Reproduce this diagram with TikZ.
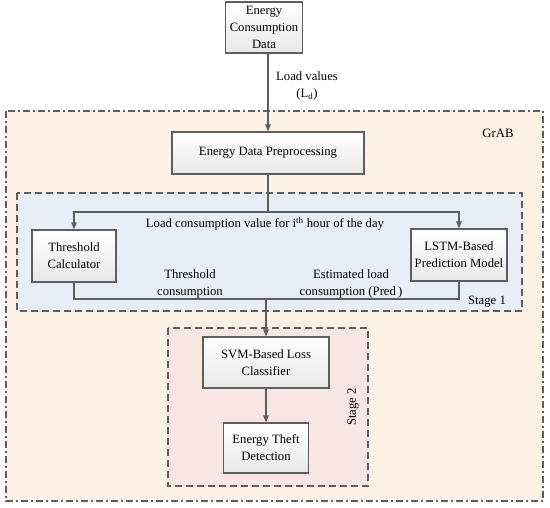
\documentclass[tikz,border=0pt]{standalone}
\usepackage{fontspec}
\setmainfont{Liberation Serif}
\usetikzlibrary{arrows.meta}
\definecolor{edgegray}{HTML}{5E5E5E}
\definecolor{outerfill}{HTML}{FDF0E4}
\definecolor{stageonefill}{HTML}{E8EEF7}
\definecolor{stagetwofill}{HTML}{F8E6E3}
\tikzset{
  box/.style={draw=edgegray, line width=1.2pt, top color=white, bottom color=black!9,
    align=center, inner sep=2pt, font=\fontsize{12.7}{17}\selectfont},
  outerbox/.style={draw=edgegray, line width=1.4pt, fill=outerfill,
    dash pattern=on 7pt off 3pt on 2pt off 3pt},
  stagebox/.style={draw=edgegray, line width=1.6pt, dash pattern=on 7pt off 4pt},
  conn/.style={draw=edgegray, line width=1.4pt},
  arr/.style={conn, -{Triangle[length=7pt,width=5.5pt]}},
  lbl/.style={align=center, inner sep=0pt, font=\fontsize{12.7}{17}\selectfont}
}
\begin{document}
\begin{tikzpicture}[x=1pt,y=-1pt]
\useasboundingbox (0,0) rectangle (550,508);
% containers
\draw[outerbox] (6,111) rectangle (543,501);
\draw[stagebox, fill=stageonefill] (17,193) rectangle (522,311);
\draw[stagebox, fill=stagetwofill] (168,328) rectangle (368,486);
\node[lbl] (grab) at (498,133) {GrAB};
\node[lbl] (s1) at (487,302) {Stage 1};
\node[lbl, rotate=90] (s2) at (353,407) {Stage 2};
% boxes
\node[box, minimum width=77pt, minimum height=51pt] (ecd) at (264,27.5) {Energy\\Consumption\\Data};
\node[box, minimum width=192pt, minimum height=42pt] (pre) at (268,153) {Energy Data Preprocessing};
\node[box, minimum width=84pt, minimum height=52pt] (thr) at (74,256) {Threshold\\Calculator};
\node[box, minimum width=96pt, minimum height=52pt] (lstm) at (459,255) {LSTM-Based\\Prediction Model};
\node[box, minimum width=126pt, minimum height=51pt] (svm) at (266,362.5) {SVM-Based Loss\\Classifier};
\node[box, minimum width=85pt, minimum height=50pt] (etd) at (266,448) {Energy Theft\\Detection};
% coordinates
\coordinate (split) at (268,212);
\coordinate (splitL) at (74,212);
\coordinate (splitR) at (459,212);
\coordinate (joinL) at (74,299);
\coordinate (joinR) at (459,299);
\coordinate (join) at (266,299);
% connectors
\draw[arr] (ecd.south -| pre.north) -- (pre.north);
\draw[conn] (pre.south) -- (split);
\draw[arr] (split) -- (splitL) -- (thr.north);
\draw[arr] (split) -- (splitR) -- (lstm.north);
\draw[conn] (thr.south) -- (joinL) -- (joinR) -- (lstm.south);
\draw[arr] (join) -- (svm.north);
\draw[arr] (svm.south) -- (etd.north);
% labels
\node[lbl, anchor=west] (lv) at (276,86) {Load values\\(L\textsubscript{d})};
\node[lbl] (lc) at (265,224) {Load consumption value for i\textsuperscript{th} hour of the day};
\node[lbl] (tc) at (190,284) {Threshold\\consumption};
\node[lbl] (ec) at (351,284) {Estimated load\\consumption (Pred\,)};
\end{tikzpicture}
\end{document}
